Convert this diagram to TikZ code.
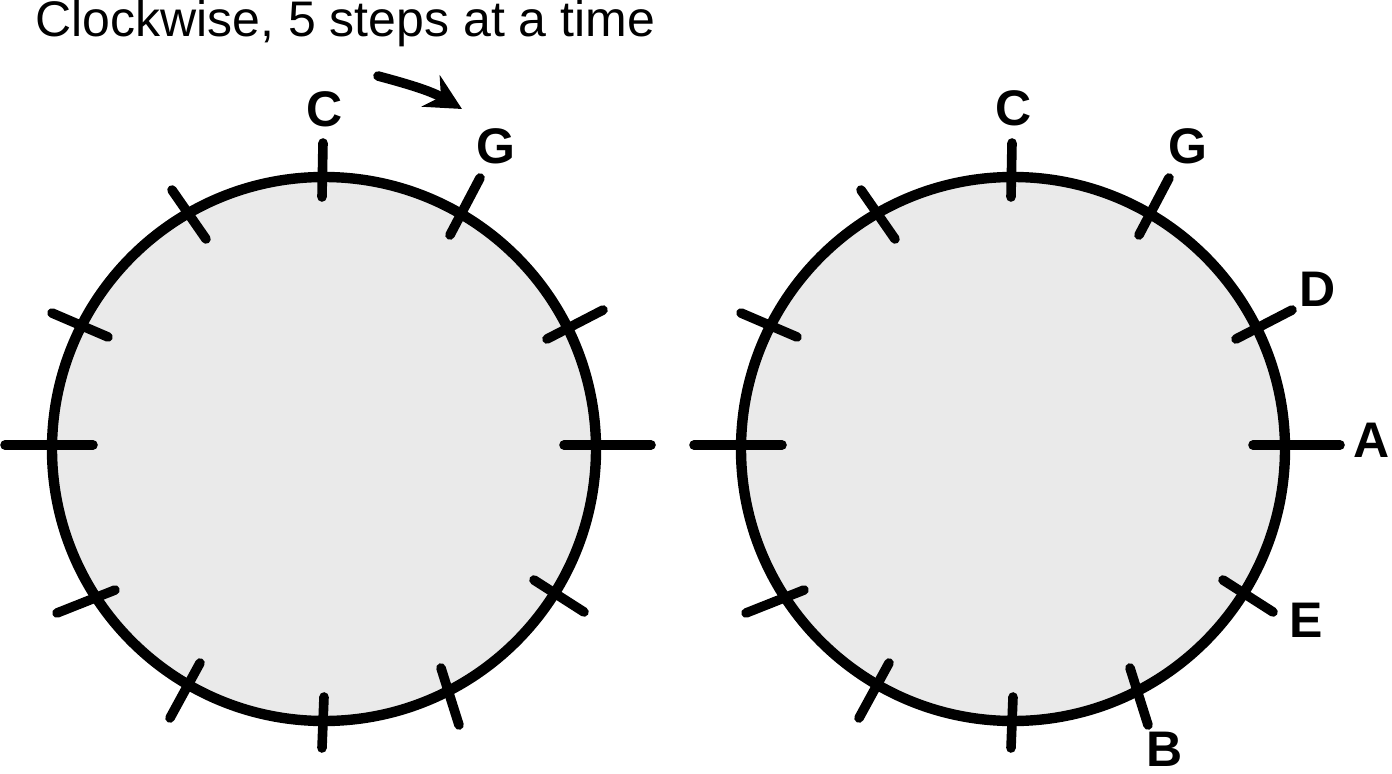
\documentclass[tikz,border=0pt]{standalone}
\usepackage{xcolor}
\usepackage{tikz}
\usepackage{fontspec}
\setmainfont{Liberation Sans}
\usetikzlibrary{arrows.meta}
\definecolor{wheelgray}{RGB}{234,234,234}

\begin{document}
\begin{tikzpicture}[x=0.5pt, y=0.5pt,
        wheel/.style={draw=black, line width=5.2pt, fill=wheelgray},
        notchline/.style={line width=4.8pt, line cap=round},
        pitch/.style={font=\bfseries\fontsize{25}{30}\selectfont, inner sep=0pt}]
        \useasboundingbox (0,0) rectangle (1392,773);
        % two identical wheels with twelve notches
        \foreach \cx in {324,1013} {
            \begin{scope}[shift={(\cx,324)}]
                \draw[wheel] (0,0) circle (272);
                \foreach \ax/\ay/\bx/\by in {-1/306/-2/252, 156/271/126/214, 279/139/223/110,
                        240/4/327/4, 210/-131/260/-163, 117/-219/135/-276, 0/-248/-2/-299,
                        -124/-214/-154/-269, -267/-164/-209/-141, -319/4/-231/4,
                        -272/136/-216/112, -152/259/-118/210}
                    \draw[notchline] (\ax,\ay) -- (\bx,\by);
            \end{scope}
        }
        \node[anchor=base west, inner sep=0pt, font=\fontsize{25}{30}\selectfont] (caption) at (35,736) {Clockwise, 5 steps at a time};
        \node[pitch] (leftC) at (325,664) {C};
        \node[pitch] (leftG) at (496,627) {G};
        \node[pitch] (rightC) at (1014,665) {C};
        \node[pitch] (rightG) at (1188,627) {G};
        \node[pitch] (pitchD) at (1318,484) {D};
        \node[pitch] (pitchA) at (1372,333) {A};
        \node[pitch] (pitchE) at (1306,153) {E};
        \node[pitch] (pitchB) at (1165,24) {B};
        % arrow from C towards G
        \coordinate (turnstart) at (378,697);
        \coordinate (turnend) at (462,664);
        \draw[line width=4.8pt, line cap=round, -{Stealth[length=18pt, width=18pt]}] (turnstart) to[out=-15, in=150] (turnend);
\end{tikzpicture}
\end{document}
